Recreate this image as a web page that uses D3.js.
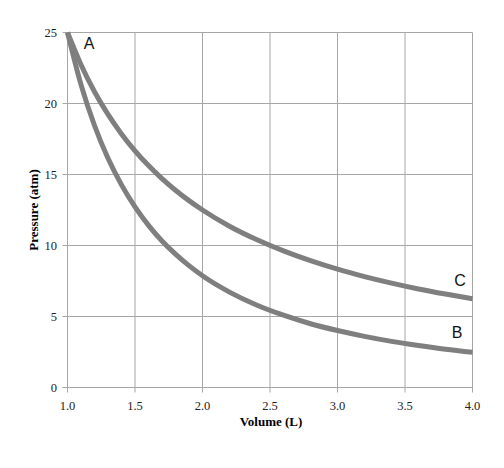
<!DOCTYPE html>
<html><head><meta charset="utf-8">
<script src="https://cdn.jsdelivr.net/npm/d3@7"></script>
<style>body{margin:0;background:#fff}</style>
</head><body>
<svg id="c" width="504" height="468"></svg>
<script>
const volumes = [1.0,1.1,1.2,1.3,1.4,1.5,1.6,1.7,1.8,1.9,2.0,2.2,2.4,2.6,2.8,3.0,3.2,3.4,3.6,3.8,4.0];
const curveC = [25,22.73,20.83,19.23,17.86,16.67,15.63,14.71,13.89,13.16,12.5,11.36,10.42,9.62,8.93,8.33,7.81,7.35,6.94,6.58,6.25];
const curveB = [25,21.33,18.45,16.14,14.27,12.72,11.42,10.32,9.39,8.58,7.87,6.72,5.81,5.09,4.49,4.01,3.60,3.25,2.96,2.70,2.48];
const xTicks = [1.0,1.5,2.0,2.5,3.0,3.5,4.0];
const yTicks = [0,5,10,15,20,25];
const pointLabels = [{t:"A",v:1.16,p:23.84},{t:"C",v:3.907,p:7.15},{t:"B",v:3.885,p:3.49}];

const svg = d3.select("#c");
const x = d3.scaleLinear().domain([1,4]).range([67.5,472.5]);
const y = d3.scaleLinear().domain([0,25]).range([387.5,32.5]);
const serif = "'Liberation Serif','DejaVu Serif',serif";

// grid
svg.append("g").selectAll("line").data(xTicks.slice(1)).join("line")
  .attr("x1",d=>x(d)).attr("x2",d=>x(d)).attr("y1",y(25)).attr("y2",y(0)+5)
  .attr("stroke","#a6a6a6").attr("stroke-width",1);
svg.append("g").selectAll("line").data(yTicks.slice(1)).join("line")
  .attr("x1",x(1)).attr("x2",x(4)).attr("y1",d=>y(d)).attr("y2",d=>y(d))
  .attr("stroke","#a6a6a6").attr("stroke-width",1);
// axes lines
svg.append("line").attr("x1",x(1)-5).attr("x2",x(4)).attr("y1",y(0)).attr("y2",y(0)).attr("stroke","#a6a6a6");
svg.append("line").attr("x1",x(1)).attr("x2",x(1)).attr("y1",y(25)).attr("y2",y(0)+5).attr("stroke","#a6a6a6");
svg.append("g").selectAll("line").data(yTicks).join("line")
  .attr("x1",x(1)-5).attr("x2",x(1)).attr("y1",d=>y(d)).attr("y2",d=>y(d)).attr("stroke","#a6a6a6");

// tick labels
svg.append("g").selectAll("text").data(xTicks).join("text")
  .attr("x",d=>x(d)).attr("y",y(0)+22.5).attr("text-anchor","middle")
  .attr("font-family",serif).attr("font-size",12.5).attr("fill","#222")
  .text(d=>d.toFixed(1));
svg.append("g").selectAll("text").data(yTicks).join("text")
  .attr("x",x(1)-10.5).attr("y",d=>y(d)+4.5).attr("text-anchor","end")
  .attr("font-family",serif).attr("font-size",12.5).attr("fill","#222")
  .text(d=>d);

// titles
svg.append("text").attr("x",271).attr("y",425.5).attr("text-anchor","middle")
  .attr("font-family",serif).attr("font-weight","bold").attr("font-size",13).text("Volume (L)");
svg.append("text").attr("transform","translate(38,210) rotate(-90)").attr("text-anchor","middle")
  .attr("font-family",serif).attr("font-weight","bold").attr("font-size",13).text("Pressure (atm)");

// curves
const line = d3.line().x(d=>x(d[0])).y(d=>y(d[1])).curve(d3.curveMonotoneX);
[curveC, curveB].forEach(vals=>{
  svg.append("path").datum(volumes.map((v,i)=>[v,vals[i]]))
    .attr("d",line).attr("fill","none").attr("stroke","#7f7f7f").attr("stroke-width",5);
});

// point labels
svg.append("g").selectAll("text").data(pointLabels).join("text")
  .attr("x",d=>x(d.v)).attr("y",d=>y(d.p)).attr("text-anchor","middle")
  .attr("font-family","'Liberation Sans',Arial,sans-serif").attr("font-size",16).attr("fill","#111")
  .text(d=>d.t);
</script>
</body></html>
